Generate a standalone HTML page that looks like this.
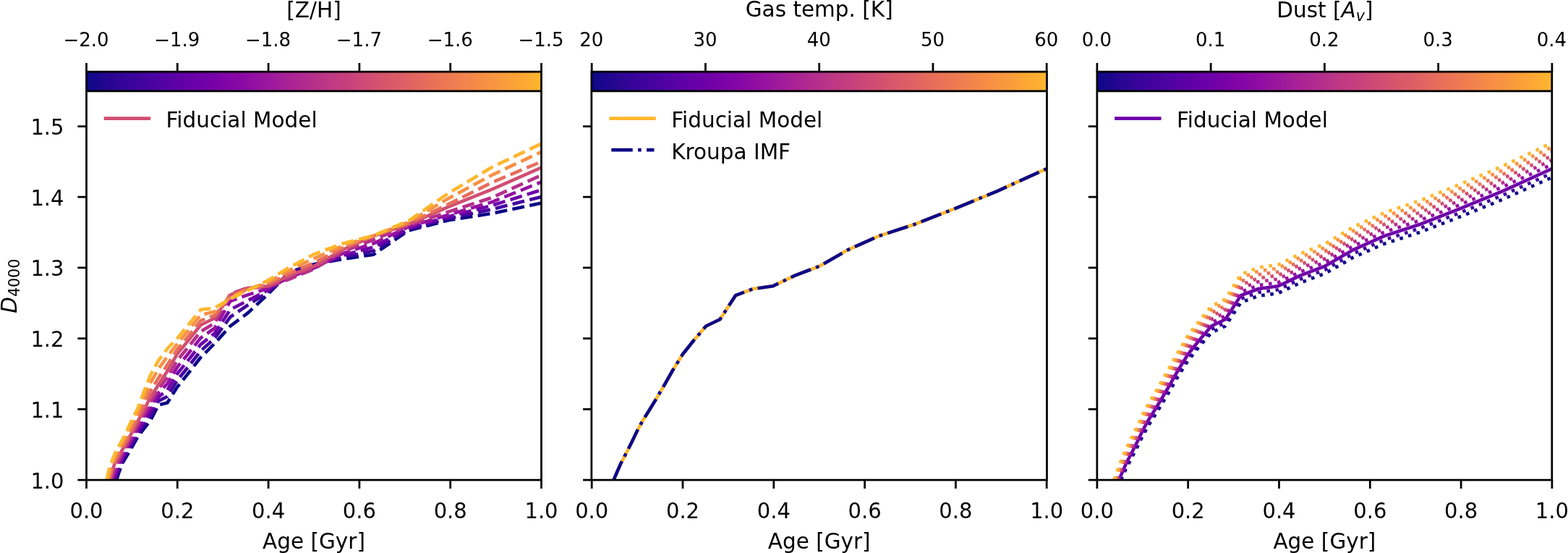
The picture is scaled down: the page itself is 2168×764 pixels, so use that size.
<!DOCTYPE html>
<html lang="en"><head><meta charset="utf-8"><title>D4000 vs Age</title>
<style>html,body{margin:0;padding:0;background:#fff;overflow:hidden;}svg{display:block;}text{font-family:"DejaVu Sans","Liberation Sans",sans-serif;fill:#000;}.t{font-size:29px}.c{font-size:26px}.l{font-size:29.50px}</style></head><body>
<svg width="2168" height="764" viewBox="0 0 2168 764">
<rect width="2168" height="764" fill="#fff"/>
<defs>
<linearGradient id="pl" x1="0" y1="0" x2="1" y2="0"><stop offset="0.0000" stop-color="#0d0887"/><stop offset="0.0312" stop-color="#1d068e"/><stop offset="0.0625" stop-color="#2c0594"/><stop offset="0.0938" stop-color="#38049a"/><stop offset="0.1250" stop-color="#43039e"/><stop offset="0.1562" stop-color="#4e02a2"/><stop offset="0.1875" stop-color="#5901a5"/><stop offset="0.2188" stop-color="#6400a7"/><stop offset="0.2500" stop-color="#6e00a8"/><stop offset="0.2812" stop-color="#7801a8"/><stop offset="0.3125" stop-color="#8305a7"/><stop offset="0.3438" stop-color="#8b0aa5"/><stop offset="0.3750" stop-color="#9511a1"/><stop offset="0.4062" stop-color="#9e199d"/><stop offset="0.4375" stop-color="#a72197"/><stop offset="0.4688" stop-color="#ae2892"/><stop offset="0.5000" stop-color="#b6308b"/><stop offset="0.5312" stop-color="#be3885"/><stop offset="0.5625" stop-color="#c43e7f"/><stop offset="0.5938" stop-color="#cb4679"/><stop offset="0.6250" stop-color="#d14e72"/><stop offset="0.6562" stop-color="#d7566c"/><stop offset="0.6875" stop-color="#dc5d67"/><stop offset="0.7188" stop-color="#e26561"/><stop offset="0.7500" stop-color="#e76e5b"/><stop offset="0.7812" stop-color="#eb7655"/><stop offset="0.8125" stop-color="#ef7e50"/><stop offset="0.8438" stop-color="#f3874a"/><stop offset="0.8750" stop-color="#f79044"/><stop offset="0.9062" stop-color="#f9983e"/><stop offset="0.9375" stop-color="#fba238"/><stop offset="0.9688" stop-color="#fdac33"/><stop offset="1.0000" stop-color="#feb72d"/></linearGradient>
<clipPath id="cp0"><rect x="119.50" y="125.75" width="629.00" height="537.25"/></clipPath>
<clipPath id="cp1"><rect x="818.20" y="125.75" width="629.00" height="537.25"/></clipPath>
<clipPath id="cp2"><rect x="1516.90" y="125.75" width="629.00" height="537.25"/></clipPath>
</defs>
<g clip-path="url(#cp0)">
<path d="M161.24 663.00 L164.03 653.72 L169.46 639.65 L175.56 629.29 L182.40 617.86 L190.07 604.18 L198.69 592.66 L208.35 580.15 L219.19 559.44 L231.35 556.51 L245.00 534.72 L260.32 515.77 L277.50 493.78 L296.78 474.44 L318.41 450.50 L342.68 432.43 L369.91 407.03 L400.46 375.76 L434.75 365.02 L473.21 357.98 L516.37 351.63 L564.80 318.51 L619.13 304.44 L680.10 294.87 L748.50 280.50" fill="none" stroke="#0d0887" stroke-width="4.60" stroke-linejoin="round" stroke-linecap="butt" stroke-dasharray="16.965 7.336" stroke-dashoffset="0.00"/>
<path d="M159.41 663.00 L164.03 649.09 L169.46 635.92 L175.56 625.48 L182.40 613.80 L190.07 599.92 L198.69 587.48 L208.35 573.80 L219.19 553.85 L231.35 547.75 L245.00 525.59 L260.32 506.68 L277.50 484.83 L296.78 467.46 L318.41 437.90 L342.68 421.49 L369.91 404.10 L400.46 377.23 L434.75 366.48 L473.21 355.46 L516.37 346.53 L564.80 316.79 L619.13 302.00 L680.10 289.20 L748.50 271.91" fill="none" stroke="#43039e" stroke-width="4.60" stroke-linejoin="round" stroke-linecap="butt" stroke-dasharray="17.007 7.354" stroke-dashoffset="0.00"/>
<path d="M157.30 663.00 L159.19 657.53 L164.03 644.46 L169.46 632.19 L175.56 621.67 L182.40 609.73 L190.07 595.67 L198.69 582.30 L208.35 567.45 L219.19 548.26 L231.35 539.00 L245.00 516.47 L260.32 497.59 L277.50 475.88 L296.78 460.49 L318.41 427.74 L342.68 415.23 L369.91 401.16 L400.46 379.67 L434.75 368.43 L473.21 352.94 L516.37 341.43 L564.80 315.07 L619.13 299.56 L680.10 283.92 L748.50 262.43" fill="none" stroke="#6e00a8" stroke-width="4.60" stroke-linejoin="round" stroke-linecap="butt" stroke-dasharray="17.02 7.36" stroke-dashoffset="0.00"/>
<path d="M155.14 663.00 L159.19 651.37 L164.03 639.83 L169.46 628.45 L175.56 617.86 L182.40 605.67 L190.07 591.41 L198.69 577.12 L208.35 561.10 L219.19 542.67 L231.35 530.25 L245.00 507.34 L260.32 488.51 L277.50 466.94 L296.78 453.51 L318.41 416.01 L342.68 407.32 L369.91 398.72 L400.46 383.09 L434.75 370.10 L473.21 350.42 L516.37 336.33 L564.80 313.35 L619.13 297.02 L680.10 279.14 L748.50 251.49" fill="none" stroke="#9511a1" stroke-width="4.60" stroke-linejoin="round" stroke-linecap="butt" stroke-dasharray="16.987 7.346" stroke-dashoffset="0.00"/>
<path d="M153.45 663.00 L154.87 657.53 L159.19 645.22 L164.03 635.19 L169.46 624.72 L175.56 614.05 L182.40 601.61 L190.07 587.15 L198.69 571.94 L208.35 554.75 L219.19 537.08 L231.35 521.49 L245.00 498.22 L260.32 479.42 L277.50 457.99 L296.78 446.54 L318.41 406.15 L342.68 397.45 L369.91 396.77 L400.46 385.53 L434.75 371.46 L473.21 347.90 L516.37 331.23 L564.80 311.63 L619.13 292.91 L680.10 273.08 L748.50 242.01" fill="none" stroke="#b6308b" stroke-width="4.60" stroke-linejoin="round" stroke-linecap="butt" stroke-dasharray="16.919 7.316" stroke-dashoffset="0.00"/>
<path d="M151.99 663.00 L154.87 651.28 L159.19 639.06 L164.03 630.56 L169.46 620.99 L175.56 610.24 L182.40 597.54 L190.07 582.89 L198.69 566.77 L208.35 548.40 L219.19 531.50 L231.35 512.74 L245.00 489.09 L260.32 470.34 L277.50 449.04 L296.78 439.56 L318.41 407.32 L342.68 397.94 L369.91 395.30 L400.46 380.65 L434.75 367.56 L473.21 345.38 L516.37 326.13 L564.80 309.91 L619.13 286.07 L680.10 261.65 L748.50 231.56" fill="none" stroke="#d14e72" stroke-width="4.60" stroke-linejoin="round" stroke-linecap="butt"/>
<path d="M150.62 663.00 L151.02 661.57 L154.87 647.23 L159.19 635.37 L164.03 626.71 L169.46 617.16 L175.56 606.00 L182.40 592.59 L190.07 577.93 L198.69 559.79 L208.35 539.73 L219.19 522.09 L231.35 504.07 L245.00 483.08 L260.32 464.37 L277.50 443.10 L296.78 435.62 L318.41 408.85 L342.68 398.84 L369.91 393.17 L400.46 377.42 L434.75 362.93 L473.21 342.94 L516.37 325.91 L564.80 308.60 L619.13 282.65 L680.10 252.17 L748.50 223.35" fill="none" stroke="#e76e5b" stroke-width="4.60" stroke-linejoin="round" stroke-linecap="butt" stroke-dasharray="17.072 7.383" stroke-dashoffset="0.00"/>
<path d="M148.89 663.00 L151.02 654.52 L154.87 641.88 L159.19 630.49 L164.03 621.61 L169.46 612.10 L175.56 600.40 L182.40 586.05 L190.07 571.39 L198.69 550.57 L208.35 528.27 L219.19 509.65 L231.35 492.61 L245.00 475.12 L260.32 456.49 L277.50 435.26 L296.78 430.42 L318.41 410.88 L342.68 400.04 L369.91 390.35 L400.46 373.15 L434.75 356.82 L473.21 339.73 L516.37 325.62 L564.80 306.86 L619.13 274.64 L680.10 241.91 L748.50 209.87" fill="none" stroke="#f79044" stroke-width="4.60" stroke-linejoin="round" stroke-linecap="butt" stroke-dasharray="17.059 7.377" stroke-dashoffset="0.00"/>
<path d="M147.60 663.00 L151.02 647.86 L154.87 636.82 L159.19 625.87 L164.03 616.79 L169.46 607.31 L175.56 595.10 L182.40 579.86 L190.07 565.20 L198.69 541.85 L208.35 517.43 L219.19 497.89 L231.35 481.77 L245.00 467.60 L260.32 449.04 L277.50 427.84 L296.78 425.49 L318.41 412.79 L342.68 401.16 L369.91 387.68 L400.46 369.12 L434.75 351.04 L473.21 336.68 L516.37 325.35 L564.80 305.22 L619.13 267.51 L680.10 230.97 L748.50 198.53" fill="none" stroke="#feb72d" stroke-width="4.60" stroke-linejoin="round" stroke-linecap="butt" stroke-dasharray="17.044 7.371" stroke-dashoffset="0.00"/>
</g>
<rect x="119.50" y="99.00" width="629.00" height="26.75" fill="url(#pl)"/>
<path d="M119.50 99.00H748.50V663.00H119.50ZM119.50 125.75H748.50" fill="none" stroke="#000" stroke-width="2.75" stroke-linejoin="miter"/>
<path d="M119.50 663.00v12.12M119.50 663.00h-12.12M245.30 663.00v12.12M119.50 565.30h-12.12M371.10 663.00v12.12M119.50 467.60h-12.12M496.90 663.00v12.12M119.50 369.90h-12.12M622.70 663.00v12.12M119.50 272.20h-12.12M748.50 663.00v12.12M119.50 174.50h-12.12M119.50 99.00v-12.12M245.30 99.00v-12.12M371.10 99.00v-12.12M496.90 99.00v-12.12M622.70 99.00v-12.12M748.50 99.00v-12.12" stroke="#000" stroke-width="2.75" fill="none"/>
<text class="t" transform="translate(119.50 716.10) scale(1 1.050)" text-anchor="middle">0.0</text>
<text class="t" transform="translate(245.30 716.10) scale(1 1.050)" text-anchor="middle">0.2</text>
<text class="t" transform="translate(371.10 716.10) scale(1 1.050)" text-anchor="middle">0.4</text>
<text class="t" transform="translate(496.90 716.10) scale(1 1.050)" text-anchor="middle">0.6</text>
<text class="t" transform="translate(622.70 716.10) scale(1 1.050)" text-anchor="middle">0.8</text>
<text class="t" transform="translate(748.50 716.10) scale(1 1.050)" text-anchor="middle">1.0</text>
<text class="t" transform="translate(88.50 674.50) scale(1 1.050)" text-anchor="end">1.0</text>
<text class="t" transform="translate(88.50 576.80) scale(1 1.050)" text-anchor="end">1.1</text>
<text class="t" transform="translate(88.50 479.10) scale(1 1.050)" text-anchor="end">1.2</text>
<text class="t" transform="translate(88.50 381.40) scale(1 1.050)" text-anchor="end">1.3</text>
<text class="t" transform="translate(88.50 283.70) scale(1 1.050)" text-anchor="end">1.4</text>
<text class="t" transform="translate(88.50 186.00) scale(1 1.050)" text-anchor="end">1.5</text>
<text class="c" x="119.00" y="63.60" text-anchor="middle">−2.0</text>
<text class="c" x="244.80" y="63.60" text-anchor="middle">−1.9</text>
<text class="c" x="370.60" y="63.60" text-anchor="middle">−1.8</text>
<text class="c" x="496.40" y="63.60" text-anchor="middle">−1.7</text>
<text class="c" x="622.20" y="63.60" text-anchor="middle">−1.6</text>
<text class="c" x="748.00" y="63.60" text-anchor="middle">−1.5</text>
<text class="l" x="434.00" y="757.90" text-anchor="middle">Age [Gyr]</text>
<text class="l" x="434.00" y="23.60" text-anchor="middle">[Z/H]</text>
<path d="M143.70 163.60H208.10" stroke="#d14e72" stroke-width="4.60" fill="none"/>
<text class="l" x="229.50" y="176.20">Fiducial Model</text>
<g clip-path="url(#cp1)">
<path d="M848.58 663.00 L849.72 660.07 L853.57 651.28 L857.89 641.31 L862.73 631.93 L868.16 621.48 L874.26 609.27 L881.10 595.10 L888.77 580.93 L897.39 567.25 L907.05 551.43 L917.89 533.06 L930.05 511.76 L943.70 489.78 L959.02 470.53 L976.20 450.50 L995.48 441.22 L1017.11 408.10 L1041.38 399.01 L1068.61 395.30 L1099.16 380.65 L1133.45 367.56 L1171.91 345.38 L1215.07 326.13 L1263.50 310.30 L1317.83 289.20 L1378.80 264.09 L1447.20 233.12" fill="none" stroke="#feb72d" stroke-width="4.60" stroke-linejoin="round" stroke-linecap="butt"/>
<path d="M848.58 663.00 L849.72 660.07 L853.57 651.28 L857.89 641.31 L862.73 631.93 L868.16 621.48 L874.26 609.27 L881.10 595.10 L888.77 580.93 L897.39 567.25 L907.05 551.43 L917.89 533.06 L930.05 511.76 L943.70 489.78 L959.02 470.53 L976.20 450.50 L995.48 441.22 L1017.11 408.10 L1041.38 399.01 L1068.61 395.30 L1099.16 380.65 L1133.45 367.56 L1171.91 345.38 L1215.07 326.13 L1263.50 310.30 L1317.83 289.20 L1378.80 264.09 L1447.20 233.12" fill="none" stroke="#0d0887" stroke-width="4.60" stroke-linejoin="round" stroke-linecap="butt" stroke-dasharray="29.622 7.405 4.628 7.405" stroke-dashoffset="1.50"/>
</g>
<rect x="817.85" y="99.00" width="629.65" height="26.75" fill="url(#pl)"/>
<path d="M817.85 99.00H1447.50V663.00H817.85ZM817.85 125.75H1447.50" fill="none" stroke="#000" stroke-width="2.75" stroke-linejoin="miter"/>
<path d="M818.20 663.00v12.12M818.20 663.00h-12.12M944.00 663.00v12.12M818.20 565.30h-12.12M1069.80 663.00v12.12M818.20 467.60h-12.12M1195.60 663.00v12.12M818.20 369.90h-12.12M1321.40 663.00v12.12M818.20 272.20h-12.12M1447.20 663.00v12.12M818.20 174.50h-12.12M818.20 99.00v-12.12M975.45 99.00v-12.12M1132.70 99.00v-12.12M1289.95 99.00v-12.12M1447.20 99.00v-12.12" stroke="#000" stroke-width="2.75" fill="none"/>
<text class="t" transform="translate(818.20 716.10) scale(1 1.050)" text-anchor="middle">0.0</text>
<text class="t" transform="translate(944.00 716.10) scale(1 1.050)" text-anchor="middle">0.2</text>
<text class="t" transform="translate(1069.80 716.10) scale(1 1.050)" text-anchor="middle">0.4</text>
<text class="t" transform="translate(1195.60 716.10) scale(1 1.050)" text-anchor="middle">0.6</text>
<text class="t" transform="translate(1321.40 716.10) scale(1 1.050)" text-anchor="middle">0.8</text>
<text class="t" transform="translate(1447.20 716.10) scale(1 1.050)" text-anchor="middle">1.0</text>
<text class="c" x="817.70" y="63.60" text-anchor="middle">20</text>
<text class="c" x="974.95" y="63.60" text-anchor="middle">30</text>
<text class="c" x="1132.20" y="63.60" text-anchor="middle">40</text>
<text class="c" x="1289.45" y="63.60" text-anchor="middle">50</text>
<text class="c" x="1446.70" y="63.60" text-anchor="middle">60</text>
<text class="l" x="1132.70" y="757.90" text-anchor="middle">Age [Gyr]</text>
<text class="l" x="1132.70" y="22.60" text-anchor="middle">Gas temp. [K]</text>
<path d="M842.40 163.60H906.80" stroke="#feb72d" stroke-width="4.60" fill="none"/>
<text class="l" x="928.20" y="176.20">Fiducial Model</text>
<path d="M845.30 207.10H904.50" stroke="#0d0887" stroke-width="4.60" fill="none" stroke-dasharray="29.44 7.36 4.6 7.36"/>
<text class="l" x="928.20" y="219.70">Kroupa IMF</text>
<g clip-path="url(#cp2)">
<path d="M1550.00 663.00 L1552.27 657.87 L1556.59 648.03 L1561.43 638.77 L1566.86 628.45 L1572.96 616.40 L1579.80 602.41 L1587.47 588.42 L1596.09 574.92 L1605.75 559.29 L1616.59 541.16 L1628.75 520.13 L1642.40 498.43 L1657.72 479.43 L1674.90 459.65 L1694.18 450.49 L1715.81 417.79 L1740.08 408.82 L1767.31 405.16 L1797.86 390.69 L1832.15 377.76 L1870.61 355.87 L1913.77 336.86 L1962.20 321.24 L2016.53 300.40 L2077.50 275.61 L2145.90 245.04" fill="none" stroke="#0d0887" stroke-width="4.60" stroke-linejoin="round" stroke-linecap="butt" stroke-dasharray="4.614 7.613" stroke-dashoffset="0.00"/>
<path d="M1548.56 663.00 L1552.27 654.57 L1556.59 644.67 L1561.43 635.35 L1566.86 624.97 L1572.96 612.83 L1579.80 598.75 L1587.47 584.68 L1596.09 571.09 L1605.75 555.36 L1616.59 537.11 L1628.75 515.95 L1642.40 494.10 L1657.72 474.98 L1674.90 455.08 L1694.18 445.86 L1715.81 412.95 L1740.08 403.92 L1767.31 400.23 L1797.86 385.67 L1832.15 372.66 L1870.61 350.62 L1913.77 331.50 L1962.20 315.77 L2016.53 294.80 L2077.50 269.85 L2145.90 239.08" fill="none" stroke="#43039e" stroke-width="4.60" stroke-linejoin="round" stroke-linecap="butt" stroke-dasharray="4.614 7.613" stroke-dashoffset="0.00"/>
<path d="M1547.28 663.00 L1548.42 660.07 L1552.27 651.28 L1556.59 641.31 L1561.43 631.93 L1566.86 621.48 L1572.96 609.27 L1579.80 595.10 L1587.47 580.93 L1596.09 567.25 L1605.75 551.43 L1616.59 533.06 L1628.75 511.76 L1642.40 489.78 L1657.72 470.53 L1674.90 450.50 L1694.18 441.22 L1715.81 408.10 L1740.08 399.01 L1767.31 395.30 L1797.86 380.65 L1832.15 367.56 L1870.61 345.38 L1913.77 326.13 L1962.20 310.30 L2016.53 289.20 L2077.50 264.09 L2145.90 233.12" fill="none" stroke="#6e00a8" stroke-width="4.60" stroke-linejoin="round" stroke-linecap="butt"/>
<path d="M1546.03 663.00 L1548.42 656.83 L1552.27 647.98 L1556.59 637.95 L1561.43 628.51 L1566.86 617.99 L1572.96 605.70 L1579.80 591.44 L1587.47 577.19 L1596.09 563.42 L1605.75 547.49 L1616.59 529.01 L1628.75 507.57 L1642.40 485.45 L1657.72 466.08 L1674.90 445.93 L1694.18 436.59 L1715.81 403.26 L1740.08 394.11 L1767.31 390.38 L1797.86 375.63 L1832.15 362.45 L1870.61 340.13 L1913.77 320.76 L1962.20 304.84 L2016.53 283.60 L2077.50 258.33 L2145.90 227.16" fill="none" stroke="#9511a1" stroke-width="4.60" stroke-linejoin="round" stroke-linecap="butt" stroke-dasharray="4.614 7.613" stroke-dashoffset="0.00"/>
<path d="M1544.82 663.00 L1545.00 662.49 L1548.42 653.58 L1552.27 644.68 L1556.59 634.59 L1561.43 625.09 L1566.86 614.50 L1572.96 602.13 L1579.80 587.79 L1587.47 573.44 L1596.09 559.59 L1605.75 543.56 L1616.59 524.96 L1628.75 503.39 L1642.40 481.13 L1657.72 461.63 L1674.90 441.35 L1694.18 431.95 L1715.81 398.41 L1740.08 389.21 L1767.31 385.45 L1797.86 370.61 L1832.15 357.35 L1870.61 334.89 L1913.77 315.40 L1962.20 299.37 L2016.53 278.00 L2077.50 252.57 L2145.90 221.20" fill="none" stroke="#b6308b" stroke-width="4.60" stroke-linejoin="round" stroke-linecap="butt" stroke-dasharray="4.614 7.612" stroke-dashoffset="0.00"/>
<path d="M1543.74 663.00 L1545.00 659.30 L1548.42 650.34 L1552.27 641.38 L1556.59 631.22 L1561.43 621.67 L1566.86 611.01 L1572.96 598.57 L1579.80 584.13 L1587.47 569.69 L1596.09 555.75 L1605.75 539.63 L1616.59 520.91 L1628.75 499.20 L1642.40 476.80 L1657.72 457.19 L1674.90 436.78 L1694.18 427.32 L1715.81 393.56 L1740.08 384.31 L1767.31 380.52 L1797.86 365.59 L1832.15 352.25 L1870.61 329.64 L1913.77 310.03 L1962.20 293.90 L2016.53 272.40 L2077.50 246.81 L2145.90 215.25" fill="none" stroke="#d14e72" stroke-width="4.60" stroke-linejoin="round" stroke-linecap="butt" stroke-dasharray="4.613 7.612" stroke-dashoffset="0.00"/>
<path d="M1542.66 663.00 L1545.00 656.11 L1548.42 647.10 L1552.27 638.08 L1556.59 627.86 L1561.43 618.24 L1566.86 607.52 L1572.96 595.00 L1579.80 580.47 L1587.47 565.95 L1596.09 551.92 L1605.75 535.69 L1616.59 516.86 L1628.75 495.02 L1642.40 472.47 L1657.72 452.74 L1674.90 432.20 L1694.18 422.68 L1715.81 388.72 L1740.08 379.40 L1767.31 375.60 L1797.86 360.57 L1832.15 347.14 L1870.61 324.40 L1913.77 304.66 L1962.20 288.43 L2016.53 266.79 L2077.50 241.05 L2145.90 209.29" fill="none" stroke="#e76e5b" stroke-width="4.60" stroke-linejoin="round" stroke-linecap="butt" stroke-dasharray="4.613 7.612" stroke-dashoffset="0.00"/>
<path d="M1541.60 663.00 L1541.94 662.00 L1545.00 652.93 L1548.42 643.86 L1552.27 634.78 L1556.59 624.50 L1561.43 614.82 L1566.86 604.04 L1572.96 591.44 L1579.80 576.82 L1587.47 562.20 L1596.09 548.09 L1605.75 531.76 L1616.59 512.81 L1628.75 490.83 L1642.40 468.15 L1657.72 448.29 L1674.90 427.62 L1694.18 418.05 L1715.81 383.87 L1740.08 374.50 L1767.31 370.67 L1797.86 355.55 L1832.15 342.04 L1870.61 319.16 L1913.77 299.30 L1962.20 282.97 L2016.53 261.19 L2077.50 235.29 L2145.90 203.33" fill="none" stroke="#f79044" stroke-width="4.60" stroke-linejoin="round" stroke-linecap="butt" stroke-dasharray="4.613 7.612" stroke-dashoffset="0.00"/>
<path d="M1540.56 663.00 L1541.94 658.87 L1545.00 649.74 L1548.42 640.61 L1552.27 631.48 L1556.59 621.14 L1561.43 611.40 L1566.86 600.55 L1572.96 587.87 L1579.80 573.16 L1587.47 558.46 L1596.09 544.26 L1605.75 527.82 L1616.59 508.76 L1628.75 486.64 L1642.40 463.82 L1657.72 443.84 L1674.90 423.05 L1694.18 413.41 L1715.81 379.03 L1740.08 369.60 L1767.31 365.74 L1797.86 350.53 L1832.15 336.94 L1870.61 313.91 L1913.77 293.93 L1962.20 277.50 L2016.53 255.59 L2077.50 229.52 L2145.90 197.37" fill="none" stroke="#feb72d" stroke-width="4.60" stroke-linejoin="round" stroke-linecap="butt" stroke-dasharray="4.613 7.612" stroke-dashoffset="0.00"/>
</g>
<rect x="1516.85" y="99.00" width="628.95" height="26.75" fill="url(#pl)"/>
<path d="M1516.85 99.00H2145.80V663.00H1516.85ZM1516.85 125.75H2145.80" fill="none" stroke="#000" stroke-width="2.75" stroke-linejoin="miter"/>
<path d="M1516.90 663.00v12.12M1516.90 663.00h-12.12M1642.70 663.00v12.12M1516.90 565.30h-12.12M1768.50 663.00v12.12M1516.90 467.60h-12.12M1894.30 663.00v12.12M1516.90 369.90h-12.12M2020.10 663.00v12.12M1516.90 272.20h-12.12M2145.90 663.00v12.12M1516.90 174.50h-12.12M1516.90 99.00v-12.12M1674.15 99.00v-12.12M1831.40 99.00v-12.12M1988.65 99.00v-12.12M2145.90 99.00v-12.12" stroke="#000" stroke-width="2.75" fill="none"/>
<text class="t" transform="translate(1516.90 716.10) scale(1 1.050)" text-anchor="middle">0.0</text>
<text class="t" transform="translate(1642.70 716.10) scale(1 1.050)" text-anchor="middle">0.2</text>
<text class="t" transform="translate(1768.50 716.10) scale(1 1.050)" text-anchor="middle">0.4</text>
<text class="t" transform="translate(1894.30 716.10) scale(1 1.050)" text-anchor="middle">0.6</text>
<text class="t" transform="translate(2020.10 716.10) scale(1 1.050)" text-anchor="middle">0.8</text>
<text class="t" transform="translate(2145.90 716.10) scale(1 1.050)" text-anchor="middle">1.0</text>
<text class="c" x="1516.40" y="63.60" text-anchor="middle">0.0</text>
<text class="c" x="1673.65" y="63.60" text-anchor="middle">0.1</text>
<text class="c" x="1830.90" y="63.60" text-anchor="middle">0.2</text>
<text class="c" x="1988.15" y="63.60" text-anchor="middle">0.3</text>
<text class="c" x="2145.40" y="63.60" text-anchor="middle">0.4</text>
<text class="l" x="1831.40" y="757.90" text-anchor="middle">Age [Gyr]</text>
<text class="l" x="1831.90" y="23.80" text-anchor="middle">Dust [<tspan font-style="italic">A</tspan><tspan font-size="20.6px" font-style="italic" dy="5.5">v</tspan><tspan dy="-5.5">]</tspan></text>
<path d="M1541.10 163.60H1605.50" stroke="#6e00a8" stroke-width="4.60" fill="none"/>
<text class="l" x="1626.90" y="176.20">Fiducial Model</text>
<text class="l" transform="translate(22.50 432.80) rotate(-90)" text-anchor="start"><tspan font-style="italic">D</tspan><tspan font-size="20.6px" dy="4.9">4000</tspan></text>
</svg></body></html>
